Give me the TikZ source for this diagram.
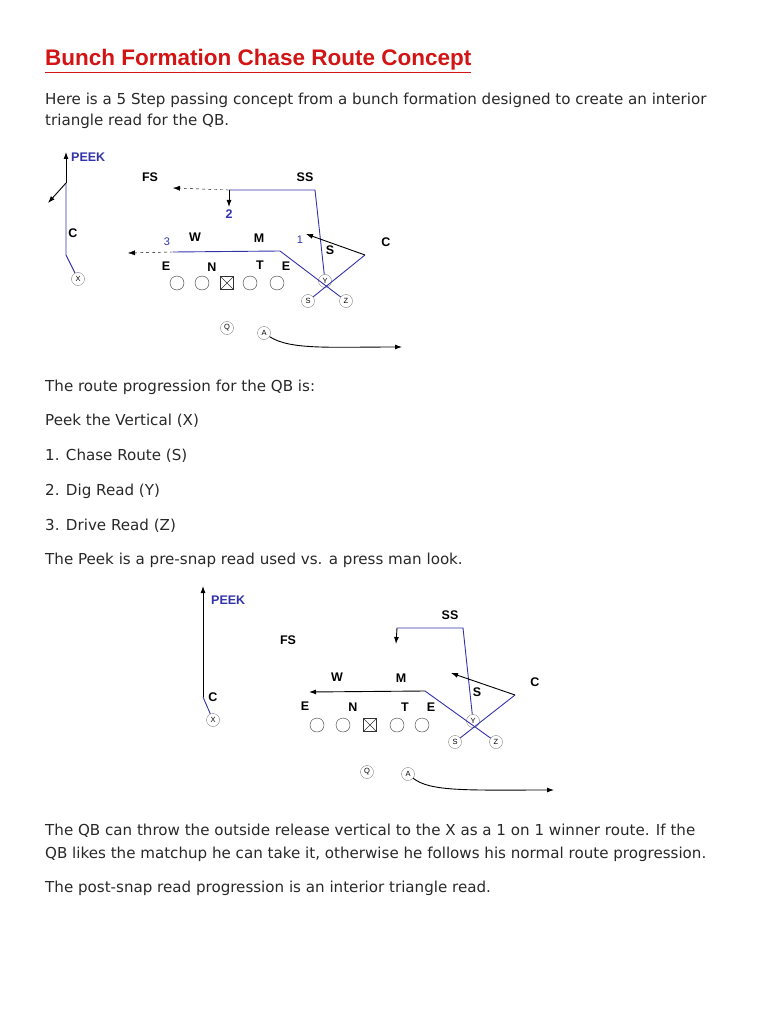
\documentclass[tikz,border=0pt]{standalone}
\usepackage{fontspec}
\setmainfont{DejaVu Sans}
\newfontfamily\arial{Liberation Sans}
\usetikzlibrary{arrows.meta}
\definecolor{rt}{RGB}{50,50,170}
\definecolor{ttl}{RGB}{210,20,20}
\definecolor{bt}{RGB}{40,40,40}
\begin{document}
\begin{tikzpicture}[x=1pt,y=-1pt,
 body/.style={anchor=west,inner sep=0,font=\fontsize{15.1}{17}\selectfont,text=bt},
 lbl/.style={inner sep=0,font=\arial\bfseries\fontsize{12.5}{13}\selectfont},
 bl/.style={lbl,text=rt},
 pl/.style={circle,draw=gray,inner sep=0,minimum size=13pt,font=\arial\fontsize{7.5}{8}\selectfont},
 ol/.style={circle,draw=black!80,inner sep=0,minimum size=14pt},
 olc/.style={rectangle,draw=black!80,inner sep=0,minimum size=13pt},
 rte/.style={draw=rt,line width=0.9pt},
 arr/.style={-{Latex[length=7pt,width=5pt]},black}]
\useasboundingbox (0,0) rectangle (768,1024);
\node[anchor=west,inner sep=0,text=ttl,font=\arial\bfseries\fontsize{22.5}{24}\selectfont] (title) at (45,61) {\underline{Bunch Formation Chase Route Concept}};
\node[body] (t1) at (45,100) {Here is a 5 Step passing concept from a bunch formation designed to create an interior};
\node[body] (t2) at (45,121) {triangle read for the QB.};
\node[body] (t3) at (45,387) {The route progression for the QB is:};
\node[body] (t4) at (45,421) {Peek the Vertical (X)};
\node[body] (t5) at (45,456) {1. Chase Route (S)};
\node[body] (t6) at (45,491) {2. Dig Read (Y)};
\node[body] (t7) at (45,526) {3. Drive Read (Z)};
\node[body] (t8) at (45,560) {The Peek is a pre-snap read used vs. a press man look.};
\node[body] (t9) at (45,831) {The QB can throw the outside release vertical to the X as a 1 on 1 winner route. If the};
\node[body] (t10) at (45,854) {QB likes the matchup he can take it, otherwise he follows his normal route progression.};
\node[body] (t11) at (45,888) {The post-snap read progression is an interior triangle read.};

% ---------- diagram 1
\foreach \n/\x in {a1/177,a2/202,a4/250,a5/277} \node[ol] (\n) at (\x,283) {};
\node[olc] (a3) at (227,283) {};
\draw[black!80] (a3.north west)--(a3.south east) (a3.north east)--(a3.south west);
\node[pl] (X1) at (78,279) {X};
\node[pl] (Y1) at (325,281) {Y};
\node[pl] (S1) at (308,301) {S};
\node[pl] (Z1) at (346,301) {Z};
\node[pl] (Q1) at (227,328) {Q};
\node[pl] (A1) at (264,333) {A};
\node[lbl] at (150,177) {FS};
\node[lbl] at (305,177) {SS};
\node[lbl] at (73,233) {C};
\node[lbl] at (195,237) {W};
\node[lbl] at (259,238) {M};
\node[lbl] at (330,250) {S};
\node[lbl] at (386,242) {C};
\node[lbl] at (166,266) {E};
\node[lbl] at (212,267) {N};
\node[lbl] at (260,265) {T};
\node[lbl] at (286,266) {E};
\node[bl,anchor=west] at (71,157) {PEEK};
\node[bl] at (229,214) {2};
\node[bl,font=\arial\fontsize{11}{12}\selectfont] at (167,242) {3};
\node[bl,font=\arial\fontsize{11}{12}\selectfont] at (300,240) {1};
\coordinate (xa) at (66,255); \coordinate (xb) at (66,183);
\draw[rte] (X1) -- (xa) -- (xb);
\draw[rte,arr] (xb) -- (66,152);
\draw[rte,arr] (xb) -- (48,203);
\coordinate (ya) at (315,190); \coordinate (yb) at (229,190);
\draw[rte] (Y1) -- (ya) -- (yb);
\draw[dashed,arr] (yb) -- (173,188);
\draw[rte,arr] (yb) -- (229,207);
\coordinate (za) at (280,251); \coordinate (zb) at (173,252);
\draw[rte] (Z1) -- (za) -- (zb);
\draw[dashed,arr] (zb) -- (128,253);
\draw[rte] (S1) -- (365,255);
\draw[rte,arr] (365,255) -- (306,234);
\draw[rte,arr] (A1) .. controls (290,350) and (330,347) .. (402,347);

% ---------- diagram 2
\foreach \n/\x in {b1/317,b2/343,b4/397,b5/422} \node[ol] (\n) at (\x,725) {};
\node[olc] (b3) at (370,725) {};
\draw[black!80] (b3.north west)--(b3.south east) (b3.north east)--(b3.south west);
\node[pl] (X2) at (213,720) {X};
\node[pl] (Y2) at (473,721) {Y};
\node[pl] (S2) at (455,742) {S};
\node[pl] (Z2) at (496,742) {Z};
\node[pl] (Q2) at (367,772) {Q};
\node[pl] (A2) at (408,774) {A};
\node[lbl] at (288,640) {FS};
\node[lbl] at (450,615) {SS};
\node[lbl] at (213,697) {C};
\node[lbl] at (337,677) {W};
\node[lbl] at (401,678) {M};
\node[lbl] at (477,692) {S};
\node[lbl] at (535,682) {C};
\node[lbl] at (305,706) {E};
\node[lbl] at (353,707) {N};
\node[lbl] at (405,707) {T};
\node[lbl] at (431,707) {E};
\node[bl,anchor=west] at (211,600) {PEEK};
\coordinate (xc) at (203,697);
\draw[rte] (X2) -- (xc);
\draw[rte,arr] (xc) -- (203,586);
\draw[rte] (Y2) -- (463,628) -- (397,628);
\draw[rte,arr] (397,628) -- (396,644);
\draw[rte] (Z2) -- (425,691);
\draw[rte,arr] (425,691) -- (309,692);
\draw[rte] (S2) -- (515,695);
\draw[rte,arr] (515,695) -- (451,673);
\draw[rte,arr] (A2) .. controls (430,792) and (470,790) .. (554,790);
\end{tikzpicture}
\end{document}
